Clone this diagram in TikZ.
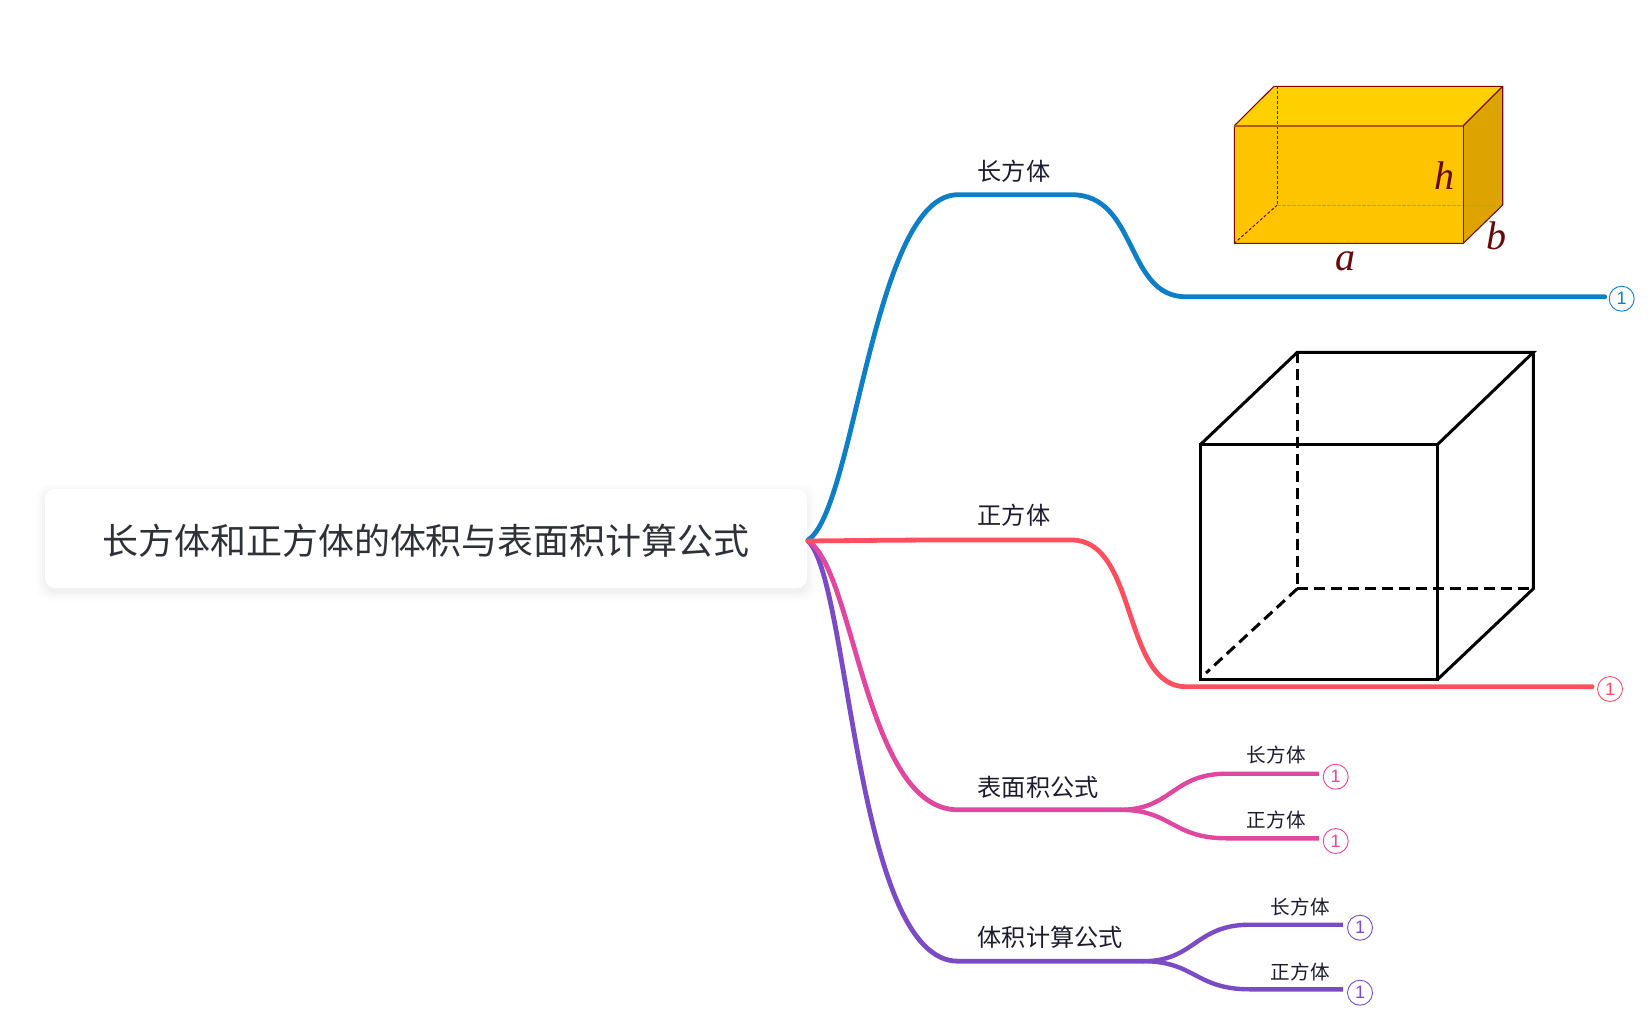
\documentclass[tikz,border=0pt]{standalone}
\usepackage{fontspec}
\setmainfont{Noto Sans CJK SC}
\newfontfamily\latinsans{Liberation Sans}
\newfontfamily\mathserif{Liberation Serif}
\usetikzlibrary{calc}
\definecolor{cblue}{HTML}{0E7FC6}
\definecolor{cred}{HTML}{FF4F5E}
\definecolor{cpink}{HTML}{E0479E}
\definecolor{cpurple}{HTML}{7A4BC4}
\definecolor{ink}{HTML}{1C1C2E}
\definecolor{titleink}{HTML}{2E3138}
\definecolor{boxline}{HTML}{7A0A0A}
\definecolor{boxtop}{HTML}{FFD000}
\definecolor{boxfront}{HTML}{FFC400}
\definecolor{boxside}{HTML}{DDA300}
\definecolor{boxrim}{HTML}{AF5F00}
\definecolor{boxback}{HTML}{BC9A48}
\tikzset{
  rootbox/.style={draw=none,fill=white,rounded corners=10pt,minimum width=762pt,minimum height=99pt,inner sep=0pt},
  roottext/.style={inner sep=0pt,text=titleink,font=\fontsize{36}{40}\selectfont},
  mainlabel/.style={inner sep=0pt,anchor=west,text=ink,font=\fontsize{24.2}{28}\selectfont},
  sublabel/.style={inner sep=0pt,anchor=west,text=ink,font=\fontsize{19.6}{23}\selectfont},
  branch/.style={line width=4.8pt,line cap=round},
  twig/.style={line width=4.4pt},
  badge/.style={circle,draw,line width=0.9pt,minimum size=25pt,inner sep=0pt,font=\latinsans\fontsize{18}{20}\selectfont},
  boxletter/.style={inner sep=0pt,text=boxline!85!black,font=\mathserif\itshape\fontsize{40}{42}\selectfont},
  cubeedge/.style={draw=black,line width=3pt,line join=miter},
  cubedash/.style={draw=black,line width=3pt,dash pattern=on 11pt off 6pt},
  boxdash/.style={draw=boxline,line width=1pt,dash pattern=on 3pt off 2pt},
}
\begin{document}
\begin{tikzpicture}[x=1pt,y=-1pt]
\useasboundingbox (0,0) rectangle (1650,1036);
% root
\foreach \g/\o in {9/0.006,7/0.008,5/0.01,3/0.012,1/0.014}{
  \fill[black,opacity=\o,rounded corners=12pt] (45-\g,489+4-\g) rectangle (807+\g,588+4+\g);
}
\node[rootbox] (root) at (426,538.5) {};
\node[roottext] (roott) at (426,541) {长方体和正方体的体积与表面积计算公式};
% cuboid
\path[fill=boxtop] (1234.3,125.7) -- (1274,86.3) -- (1502.7,86.3) -- (1463.3,125.7) -- cycle;
\path[fill=boxfront] (1234.3,125.7) rectangle (1463.3,243.3);
\path[fill=boxside] (1463.3,125.7) -- (1502.7,86.3) -- (1502.7,205) -- (1463.3,243.3) -- cycle;
\draw[boxdash] (1277.3,86.3) -- (1277.3,205);
\draw[boxdash] (1277.3,205) -- (1234.3,243.3);
\draw[line width=1pt,draw=boxback,dash pattern=on 4pt off 1pt] (1277.3,205) -- (1502.7,205);
\draw[boxline,line width=1.1pt,line join=round] (1234.3,125.7) -- (1274,86.3) -- (1502.7,86.3) -- (1463.3,125.7);
\draw[boxline,line width=1.1pt] (1502.7,86.3) -- (1502.7,205) -- (1463.3,243.3) -- (1234.3,243.3) -- (1234.3,125.7);
\draw[boxline,line width=1.1pt] (1463.3,125.7) -- (1463.3,243.3);
\draw[draw=boxrim,line width=1.6pt] (1234.3,125.7) -- (1463.3,125.7);
\node[boxletter] (lh) at (1444,176) {h};
\node[boxletter] (lb) at (1496,236) {b};
\node[boxletter] (la) at (1345,261.5) {a};
% cube
\draw[cubedash] (1297.3,352.3) -- (1297.3,588.7);
\draw[cubedash] (1297.3,588.7) -- (1533.3,588.7);
\draw[cubedash] (1297.3,588.7) -- (1206,673);
\draw[cubeedge] (1200.7,444.3) rectangle (1437.7,679.3);
\draw[cubeedge] (1200.7,444.3) -- (1297.3,352.3) -- (1533.3,352.3) -- (1437.7,444.3);
\draw[cubeedge] (1533.3,352.3) -- (1533.3,588.7) -- (1437.7,679.3);
% branch coordinates
\coordinate (bs) at (808,540);
\coordinate (rs) at (808,541);
\coordinate (ps) at (808,541);
\coordinate (us) at (808,541);
\coordinate (b1) at (958,194.7);
\coordinate (b2) at (1071.6,194.7);
\coordinate (b3) at (1186,296.8);
\coordinate (r1) at (958,540);
\coordinate (r2) at (1071.6,540);
\coordinate (r3) at (1186,686.7);
\coordinate (p1) at (958,809.8);
\coordinate (p2) at (1120,809.8);
\coordinate (pa) at (1226.7,773.7);
\coordinate (pb) at (1226.7,838.3);
\coordinate (u1) at (958,961.2);
\coordinate (u2) at (1143,961.2);
\coordinate (ua) at (1250,924.7);
\coordinate (ub) at (1250,989.3);
% badges
\node[badge,draw=cblue,text=cblue] (cb) at (1621.7,298.7) {1};
\node[badge,draw=cred,text=cred] (cr) at (1610,689) {1};
\node[badge,draw=cpink,text=cpink] (cpa) at (1335.7,776.7) {1};
\node[badge,draw=cpink,text=cpink] (cpb) at (1335.7,841) {1};
\node[badge,draw=cpurple,text=cpurple] (cua) at (1360,927.7) {1};
\node[badge,draw=cpurple,text=cpurple] (cub) at (1360,992.7) {1};
% connectors
\draw[branch,cpurple] (us) .. controls (850,580) and (855,961.2) .. (u1) -- (u2);
\draw[twig,cpurple] (u2) .. controls (1195,961.2) and (1195,924.7) .. (ua) -- ($(cua.west |- ua)+(-4,0)$);
\draw[twig,cpurple] (u2) .. controls (1195,961.2) and (1195,989.3) .. (ub) -- ($(cub.west |- ub)+(-4,0)$);
\draw[branch,cpink] (ps) .. controls (855,570) and (865,809.8) .. (p1) -- (p2);
\draw[twig,cpink] (p2) .. controls (1172,809.8) and (1172,773.7) .. (pa) -- ($(cpa.west |- pa)+(-4,0)$);
\draw[twig,cpink] (p2) .. controls (1172,809.8) and (1172,838.3) .. (pb) -- ($(cpb.west |- pb)+(-4,0)$);
\draw[branch,cblue] (bs) .. controls (855,510) and (873,194.7) .. (b1) -- (b2) .. controls (1138,194.7) and (1125,296.8) .. (b3) -- ($(cb.west |- b3)+(-4,0)$);
\draw[branch,cred] (rs) .. controls (860,540.5) and (900,540) .. (r1) -- (r2) .. controls (1138,540) and (1122,686.7) .. (r3) -- ($(cr.west |- r3)+(-5,0)$);
% labels
\node[mainlabel] (tb) at (977.5,171) {长方体};
\node[mainlabel] (tr) at (977.5,515.5) {正方体};
\node[mainlabel] (tp) at (977.5,787.5) {表面积公式};
\node[mainlabel] (tu) at (977.5,937.5) {体积计算公式};
\node[sublabel] (tpa) at (1246.7,755) {长方体};
\node[sublabel] (tpb) at (1246.7,820) {正方体};
\node[sublabel] (tua) at (1270.7,907) {长方体};
\node[sublabel] (tub) at (1270.7,972) {正方体};
\end{tikzpicture}
\end{document}
